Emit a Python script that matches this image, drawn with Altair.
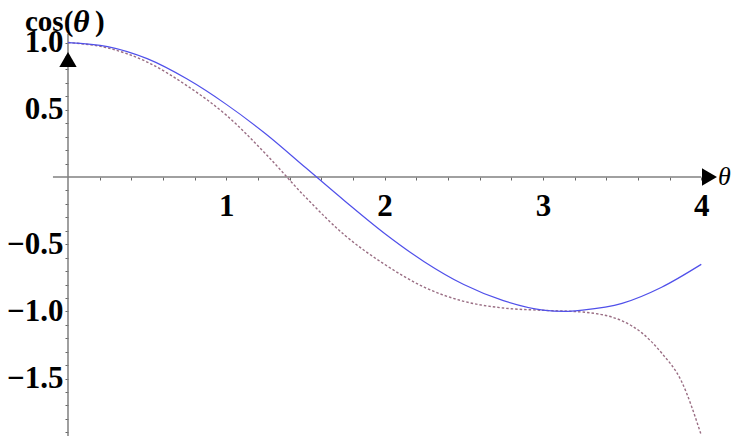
import altair as alt
import pandas as pd

# ---- data ----
theta_blue = [0, 0.25, 0.5, 0.75, 1.0, 1.25, 1.5, 1.75, 2.0, 2.25, 2.5, 2.75, 3.0, 3.14, 3.25, 3.5, 3.75, 4.0]
val_blue = [1.00, 0.97, 0.88, 0.73, 0.54, 0.32, 0.07, -0.18, -0.42, -0.63, -0.80, -0.92, -0.99, -1.00, -0.99, -0.94, -0.82, -0.65]

theta_dot = [0, 0.25, 0.5, 0.75, 1.0, 1.25, 1.5, 1.75, 2.0, 2.25, 2.5, 2.75, 3.0, 3.25, 3.5, 3.625, 3.75, 3.875, 4.0]
val_dot = [1.0, 0.96, 0.855, 0.68, 0.46, 0.17, -0.15, -0.435, -0.65, -0.82, -0.925, -0.975, -0.992, -1.005, -1.07, -1.16, -1.31, -1.52, -1.92]

x_tick_values = [0.2, 0.4, 0.6, 0.8, 1.0, 1.2, 1.4, 1.6, 1.8, 2.0, 2.2, 2.4, 2.6, 2.8, 3.0, 3.2, 3.4, 3.6, 3.8, 4.0]
y_tick_values = [-1.9, -1.8, -1.7, -1.6, -1.5, -1.4, -1.3, -1.2, -1.1, -1.0, -0.9, -0.8, -0.7, -0.6, -0.5,
                 -0.4, -0.3, -0.2, -0.1, 0.1, 0.2, 0.3, 0.4, 0.5, 0.6, 0.7, 0.8, 0.9, 1.0]

x_domain = [-0.379, 4.188]
y_domain = [-1.927, 1.257]

x_axis_line = {"x": [-0.095], "x2": [4.0], "y": [0.0]}
y_axis_line = {"x": [0.0], "y": [-1.927], "y2": [1.064]}
arrow_up = {"x": [0.0], "y": [0.874]}
arrow_right = {"x": [4.052], "y": [0.0]}
x_label_pos = {"x": [4.106], "y": [0.0], "t": ["θ"]}
y_label_pos = {"x": [-0.2716], "y": [1.153]}

W, H = 723, 428

FONT = "Liberation Serif"

x_scale = alt.Scale(domain=x_domain, nice=False, zero=False)
y_scale = alt.Scale(domain=y_domain, nice=False, zero=False)

x_axis = alt.Axis(
    orient="bottom", offset=-259, domain=False, grid=False, title=None,
    values=x_tick_values, ticks=True, tickSize=3, tickColor="#666666", tickWidth=1,
    labelExpr="abs(datum.value - round(datum.value)) < 0.001 ? format(datum.value, 'd') : ''",
    labelFont=FONT, labelFontWeight="bold", labelFontSize=31, labelColor="black",
    labelPadding=11, labelFlush=False, labelOverlap=False,
)
y_axis = alt.Axis(
    orient="left", offset=-60, domain=False, grid=False, title=None,
    values=y_tick_values, ticks=True, tickSize=3, tickColor="#666666", tickWidth=1,
    labelExpr="abs(datum.value*2 - round(datum.value*2)) < 0.001 ? format(datum.value, '.1f') : ''",
    labelFont=FONT, labelFontWeight="bold", labelFontSize=31, labelColor="black",
    labelPadding=2, labelFlush=False, labelOverlap=False,
)

X = alt.X("x:Q", scale=x_scale, axis=x_axis)
Y = alt.Y("y:Q", scale=y_scale, axis=y_axis)

df_blue = pd.DataFrame({"x": theta_blue, "y": val_blue})
df_dot = pd.DataFrame({"x": theta_dot, "y": val_dot})

xline = alt.Chart(pd.DataFrame(x_axis_line)).mark_rule(color="#808080", strokeWidth=1.5).encode(
    x=X, x2="x2:Q", y=Y)
yline = alt.Chart(pd.DataFrame(y_axis_line)).mark_rule(color="#808080", strokeWidth=1.5).encode(
    x=X, y=Y, y2="y2:Q")

blue = alt.Chart(df_blue).mark_line(color="#5050ea", strokeWidth=1.2, interpolate="monotone").encode(
    x=X, y=Y)
dotted = alt.Chart(df_dot).mark_line(color="#9a6e84", strokeWidth=1.4, strokeDash=[2.5, 2],
                                     interpolate="monotone").encode(x=X, y=Y)

up = alt.Chart(pd.DataFrame(arrow_up)).mark_point(shape="triangle-up", filled=True, color="black",
                                                   opacity=1, size=300).encode(x=X, y=Y)
right = alt.Chart(pd.DataFrame(arrow_right)).mark_point(shape="triangle-right", filled=True, color="black",
                                                         opacity=1, size=300).encode(x=X, y=Y)

xlab = alt.Chart(pd.DataFrame(x_label_pos)).mark_text(
    font=FONT, fontStyle="italic", fontSize=26, align="left", baseline="middle", color="black"
).encode(x=X, y=Y, text="t:N")

ylab_df = pd.DataFrame(y_label_pos)
ylab1 = alt.Chart(ylab_df).mark_text(
    text="cos(", font=FONT, fontWeight="bold", fontSize=29, align="left", baseline="middle", color="black"
).encode(x=X, y=Y)
ylab2 = alt.Chart(ylab_df).mark_text(
    text="θ", font=FONT, fontWeight="bold", fontStyle="italic", fontSize=32, align="left",
    baseline="middle", color="black", dx=48
).encode(x=X, y=Y)
ylab3 = alt.Chart(ylab_df).mark_text(
    text=")", font=FONT, fontWeight="bold", fontSize=29, align="left", baseline="middle",
    color="black", dx=70
).encode(x=X, y=Y)

chart = alt.layer(xline, yline, dotted, blue, up, right, xlab, ylab1, ylab2, ylab3).properties(
    width=W, height=H, padding=0, autosize=alt.AutoSizeParams(type="none"), background="white"
).configure_view(stroke=None)

chart.save("out.html", embed_options={"renderer": "svg", "actions": False})
